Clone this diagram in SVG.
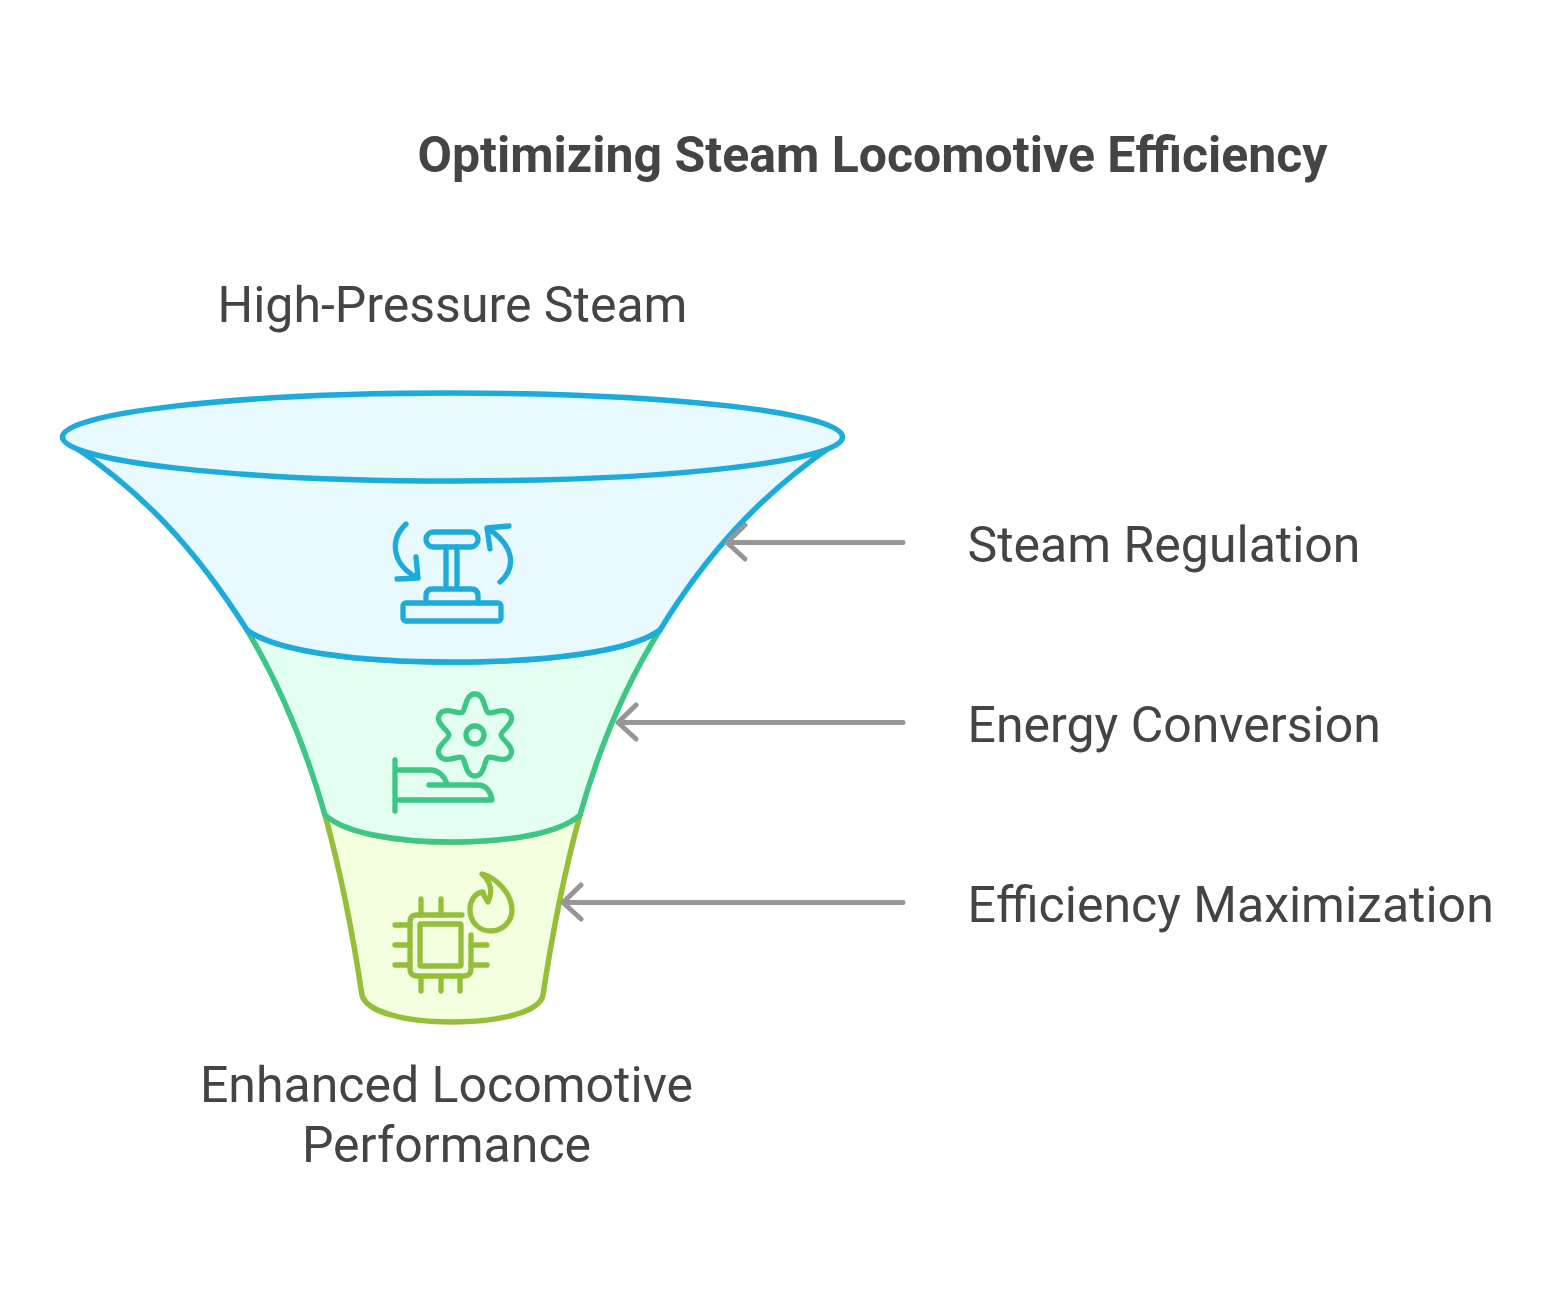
<svg xmlns="http://www.w3.org/2000/svg" width="1566" height="1295" viewBox="0 0 1566 1295">
<style>
text{font-family:Roboto,"Liberation Sans",sans-serif;fill:#444444;font-size:50px}
.t{font-weight:700}
.m{text-anchor:middle}
.blue{stroke:#1cabdb}.green{stroke:#3dc684}.lime{stroke:#93bf39}
.s,.i{stroke-linecap:round;stroke-linejoin:round}
.s{stroke-width:5.500}.i{stroke-width:5.300;fill:none}
.a{fill:none;stroke:#969696;stroke-width:5;stroke-linecap:round;stroke-linejoin:round}
.f1{fill:#e8f9ff}.f2{fill:#e3fff1}.f3{fill:#f3ffde}
</style>
<rect width="1566" height="1295" fill="#ffffff"/>
<text id="title" class="t" x="417.500" y="172">Optimizing Steam Locomotive Efficiency</text>
<text id="top-label" x="217.500" y="322">High-Pressure Steam</text>
<g id="stage-3">
<path d="M325 815C342 877 353 935 362 995C366 1012 405 1022 452 1022C500 1022 540 1012 543 995C552 935 563 877 580 815C560 833 510 842 452 842C395 842 345 833 325 815Z" class="s lime f3"/>
<g class="i lime">
<path d="M462 915H417Q410 915 410 922V969Q410 976 417 976H464Q471 976 471 969V935"/>
<rect x="420" y="924" width="41" height="42" rx="1"/>
<path d="M421 899V915M441 899V915M421 977V991M441 977V991M460 977V991M395 925H410M395 945H410M395 965H410M471 945H487M471 965H487"/>
<path d="M482 874C495 877 512 893 512 910C512 922 502 931 491 931C479 931 470 922 470 910C470 900 475 893 483 892C484 897 486 899 488 902C493 892 491 882 482 874Z"/>
</g>
</g>
<g id="stage-2">
<path d="M247 630C280 685 305 745 325 815C345 833 395 842 452 842C510 842 560 833 580 815C600 745 625 685 660 630C630 652 545 662 452 662C360 662 277 652 247 630Z" class="s green f2"/>
<g class="i green">
<circle cx="475" cy="735" r="9"/>
<path transform="translate(475 735)" d="M-13 -22.500C-9 -25 -10 -41 0 -41C10 -41 9 -25 13 -22.500C17.150 -20.300 30.500 -29.200 35.500 -20.500C40.500 -11.800 26.150 -4.700 26 0C26.150 4.700 40.500 11.800 35.500 20.500C30.500 29.200 17.150 20.300 13 22.500C9 25 10 41 0 41C-10 41 -9 25 -13 22.500C-17.150 20.300 -30.500 29.200 -35.500 20.500C-40.500 11.800 -26.150 4.700 -26 0C-26.150 -4.700 -40.500 -11.800 -35.500 -20.500C-30.500 -29.200 -17.150 -20.300 -13 -22.500Z"/>
<path d="M395 760V811M395 770H430C439 770 445 777 447 784M429 785H478C486 785 491 792 492 800H395"/>
</g>
</g>
<g id="stage-1">
<path d="M72 445C142 492 195 548 247 630C277 652 360 662 452 662C545 662 630 652 660 630C710 548 765 492 833 445" class="s blue f1"/>
<ellipse cx="452.500" cy="437" rx="390" ry="44" class="s blue f1"/>
<g class="i blue">
<rect x="426" y="532" width="52" height="15" rx="7.500"/>
<path d="M446 547V589M457 547V589M426 603V596Q426 589 433 589H471Q478 589 478 596V603"/>
<rect x="403" y="603" width="98" height="18" rx="3"/>
<path d="M406 524C389 540 392 565 418 578M416 557L418 578L397 579"/>
<path d="M500 582C517 567 514 545 487 528M490 549L487 528L509 526"/>
</g>
</g>
<g id="connectors">
<path class="a" d="M903 542.500H727M745 525L727 542.500L745 559"/>
<path class="a" d="M903 722.500H618M636 705L618 722.500L636 739"/>
<path class="a" d="M903 902.500H563M581 885L563 902.500L581 919"/>
</g>
<text id="label-1" x="967.500" y="562">Steam Regulation</text>
<text id="label-2" x="967.500" y="742">Energy Conversion</text>
<text id="label-3" x="967.500" y="922">Efficiency Maximization</text>
<g id="bottom-label">
<text class="m" x="446.500" y="1102">Enhanced Locomotive</text>
<text class="m" x="446.500" y="1162">Performance</text>
</g>
</svg>
